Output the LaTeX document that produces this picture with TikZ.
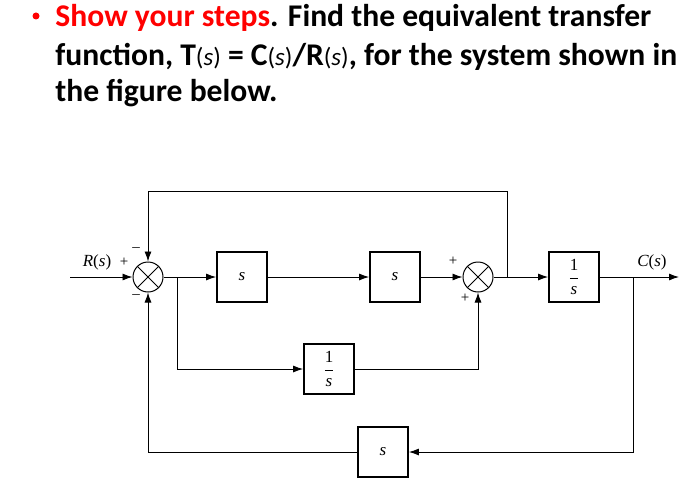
\documentclass[tikz,border=0pt]{standalone}
\usepackage{fontspec}
\setmainfont{Liberation Serif}
\newfontfamily\titlefont{Carlito}
\usetikzlibrary{arrows.meta}
\newcommand{\ps}{{\mdseries\fontsize{25}{25}\selectfont(\textit{s})}}
\newcommand{\fr}{$\displaystyle\frac{\mbox{1}}{\mbox{\itshape s}}$}
\begin{document}
\begin{tikzpicture}[x=1pt,y=-1pt,
  line width=0.9pt,
  blk/.style={draw,line width=1.8pt,minimum width=50pt,minimum height=50pt,inner sep=0pt,font=\fontsize{17}{18}\selectfont},
  sumj/.style={draw,circle,line width=1pt,minimum size=30pt,inner sep=0pt,
    path picture={\draw[line width=1pt] (path picture bounding box.south west)--(path picture bounding box.north east)
      (path picture bounding box.north west)--(path picture bounding box.south east);}},
  arr/.style={-{Latex[length=10pt,width=7pt]}},
  lab/.style={font=\fontsize{17}{18}\selectfont,inner sep=0pt},
  sg/.style={font=\fontsize{15}{15}\selectfont,inner sep=0pt},
  tl/.style={anchor=base west,inner sep=0pt,font=\titlefont\bfseries\fontsize{31.6}{37}\selectfont}]
\useasboundingbox (0,0) rectangle (692,487);
% title
\node[tl] (t1) at (55,27) {\textcolor{red}{Show your steps}. Find the equivalent transfer};
\node[tl] (t2) at (55,65) {function, T\ps{} = C\ps/R\ps, for the system shown in};
\node[tl] (t3) at (55,101) {the figure below.};
\node[fill=red,circle,minimum size=7pt,inner sep=0pt] (bullet) at (36,16) {};
% blocks
\node[sumj] (s1) at (148,277) {};
\node[blk] (b1) at (242,277) {\itshape s};
\node[blk] (b2) at (395,277) {\itshape s};
\node[sumj] (s2) at (478,277) {};
\node[blk] (b3) at (574,277) {\fr};
\node[blk] (b4) at (329,369) {\fr};
\node[blk] (b5) at (383,452) {\itshape s};
\coordinate (in) at (70,277);
\coordinate (out) at (679,277);
\coordinate (pC) at (633,277);
\coordinate (pA) at (177,277);
\coordinate (pB) at (507,277);
% connectors
\draw[arr] (in) -- (s1.west);
\draw[arr] (s1.east) -- (b1.west);
\draw[arr] (b1.east) -- (b2.west);
\draw[arr] (b2.east) -- (s2.west);
\draw[arr] (s2.east) -- (b3.west);
\draw[arr] (b3.east) -- (out);
\draw[arr] (pA) |- (b4.west);
\draw[arr] (b4.east) -| (s2.south);
\draw[arr] (pB) -- (507,191) -| (s1.north);
\draw[arr] (pC) |- (b5.east);
\draw[arr] (b5.west) -| (s1.south);
% labels
\node[lab] (lR) at (97,262) {\itshape R\upshape(\itshape s\upshape)};
\node[lab] (lC) at (652,262) {\itshape C\upshape(\itshape s\upshape)};
\node[sg] (p1) at (124,262) {+};
\node[sg] (m1) at (136,250) {\textendash};
\node[sg] (m2) at (136,297) {\textendash};
\node[sg] (p2) at (453,261) {+};
\node[sg] (p3) at (465,298) {+};
\end{tikzpicture}
\end{document}
